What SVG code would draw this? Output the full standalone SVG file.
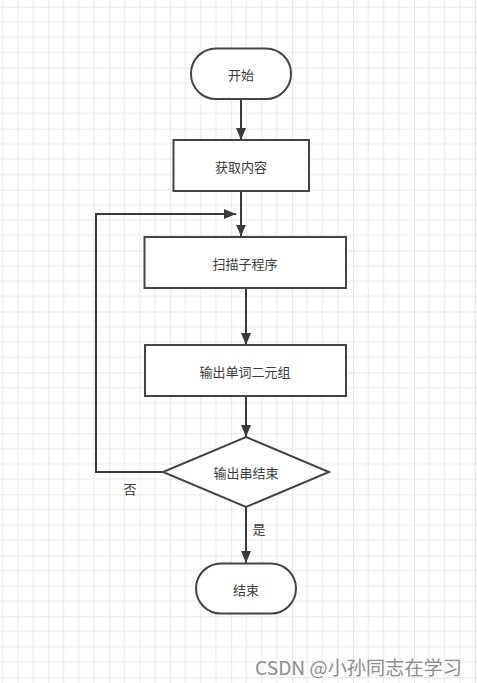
<svg xmlns="http://www.w3.org/2000/svg" width="477" height="683" viewBox="0 0 477 683">
<defs>
<pattern id="grid" patternUnits="userSpaceOnUse" x="48.3" y="6.7" width="60.96" height="60.96">
<path d="M15.24 0V60.96M30.48 0V60.96M45.72 0V60.96M0 15.24H60.96M0 30.48H60.96M0 45.72H60.96" stroke="#efefef" stroke-width="1.5" fill="none"/>
<path d="M0 0V60.96M0 0H60.96" stroke="#e6e6e6" stroke-width="2" fill="none"/>
</pattern>
<marker id="arrow" markerUnits="userSpaceOnUse" markerWidth="12" markerHeight="10" refX="12" refY="5" orient="auto">
<path d="M0 0L12 5L0 10Z" fill="#3a3a3a"/>
</marker>
</defs>
<style>
.node{fill:#fff;stroke:#444;stroke-width:2}
.lbl{font-family:"Noto Sans CJK SC","Microsoft YaHei",sans-serif;font-size:13px;fill:#3a3a3a;text-anchor:middle;dominant-baseline:central}
.conn{fill:none;stroke:#3a3a3a;stroke-width:2}
</style>
<rect width="477" height="683" fill="#fff"/>
<rect width="477" height="683" fill="url(#grid)"/>
<g id="connectors">
<path class="conn" d="M241 99V140" marker-end="url(#arrow)"/>
<path class="conn" d="M241 191V236.5" marker-end="url(#arrow)"/>
<path class="conn" d="M246 288V345" marker-end="url(#arrow)"/>
<path class="conn" d="M246 396V437" marker-end="url(#arrow)"/>
<path class="conn" d="M246 507V563" marker-end="url(#arrow)"/>
<path class="conn" d="M163 472H96V214H236" marker-end="url(#arrow)"/>
<text class="lbl" x="130" y="488">否</text>
<text class="lbl" x="259" y="528">是</text>
</g>
<g id="start">
<rect class="node" x="191" y="48.5" width="100" height="50.5" rx="25" ry="25"/>
<text class="lbl" x="241" y="74">开始</text>
</g>
<g id="get">
<rect class="node" x="173.5" y="140" width="135.5" height="51"/>
<text class="lbl" x="241" y="166">获取内容</text>
</g>
<g id="scan">
<rect class="node" x="144.5" y="237" width="201.5" height="51"/>
<text class="lbl" x="245" y="263">扫描子程序</text>
</g>
<g id="output">
<rect class="node" x="145" y="345" width="201" height="51"/>
<text class="lbl" x="245" y="371">输出单词二元组</text>
</g>
<g id="decision">
<polygon class="node" points="246,437 329,472 246,507 163,472"/>
<text class="lbl" x="246" y="472">输出串结束</text>
</g>
<g id="end">
<rect class="node" x="196" y="563.5" width="100" height="50" rx="25" ry="25"/>
<text class="lbl" x="246" y="589">结束</text>
</g>
<text x="255" y="666.5" font-family="Noto Sans CJK SC, sans-serif" font-size="19" fill="#8c8c8c" dominant-baseline="central" textLength="207" lengthAdjust="spacingAndGlyphs">CSDN @小孙同志在学习</text>
</svg>
